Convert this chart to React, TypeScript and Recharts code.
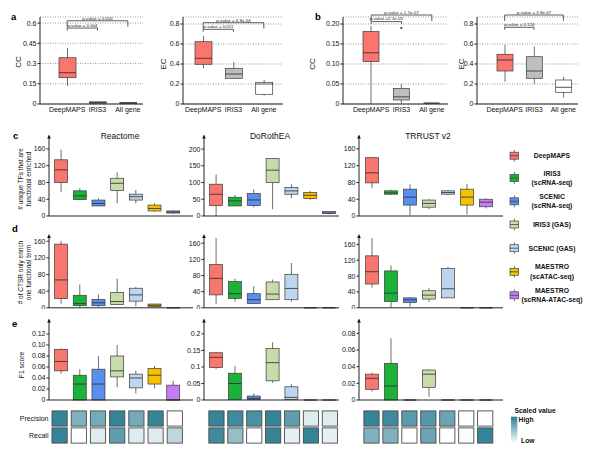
import React from 'react';
import {
  ComposedChart,
  Bar,
  Cell,
  XAxis,
  YAxis,
  CartesianGrid,
  ReferenceLine,
  ScatterChart,
  Scatter,
} from 'recharts';

const FONT = '"Liberation Sans", Arial, Helvetica, sans-serif';

const methods = [
  'DeepMAPS',
  'IRIS3 (scRNA-seq)',
  'SCENIC (scRNA-seq)',
  'IRIS3 (GAS)',
  'SCENIC (GAS)',
  'MAESTRO (scATAC-seq)',
  'MAESTRO (scRNA-ATAC-seq)',
];
const methodColors = ['#F8766D', '#1BB23C', '#5B8FEF', '#C7DCAA', '#BDD6EE', '#F7C100', '#C57CF5'];

const abGroups = ['DeepMAPS', 'IRIS3', 'All gene'];
const abColors = ['#F8766D', '#BEBEBE', '#FFFFFF'];

// five-number summaries: [min, q1, median, q3, max]
const aCC = [
  [0.133, 0.195, 0.232, 0.343, 0.417],
  [0.003, 0.006, 0.01, 0.016, 0.02],
  [0.004, 0.006, 0.008, 0.01, 0.012],
];
const aEC = [
  [0.357, 0.397, 0.457, 0.623, 0.68],
  [0.25, 0.257, 0.3, 0.357, 0.42],
  [0.083, 0.097, 0.2, 0.217, 0.24],
];
const bCC = [
  [0, 0.106, 0.128, 0.181, 0.195],
  [0.002, 0.01, 0.018, 0.039, 0.05],
  [0.002, 0.003, 0.003, 0.004, 0.004],
];
const bCCOutliers = [[], [0.19], []];
const bEC = [
  [0.223, 0.33, 0.44, 0.497, 0.59],
  [0.2, 0.257, 0.33, 0.473, 0.573],
  [0.063, 0.117, 0.167, 0.24, 0.273],
];

// [from, to, y, label]
const aCCBrackets = [
  ['DeepMAPS', 'All gene', 0.617, 'p-value = 0.004'],
  ['DeepMAPS', 'IRIS3', 0.563, 'p-value = 0.004'],
];
const aECBrackets = [
  ['DeepMAPS', 'All gene', 0.813, 'p-value = 6.9e-04'],
  ['DeepMAPS', 'IRIS3', 0.747, 'p-value = 0.011'],
];
const bCCBrackets = [
  ['DeepMAPS', 'All gene', 0.2225, 'p-value = 1.7e-07'],
  ['DeepMAPS', 'IRIS3', 0.206, 'p-value =2.1e-05'],
];
const bECBrackets = [
  ['DeepMAPS', 'All gene', 0.89, 'p-value = 3.9e-07'],
  ['DeepMAPS', 'IRIS3', 0.767, 'p-value = 0.124'],
];

const cReactome = [
  [57, 80, 110, 134, 158],
  [38, 39, 48, 60, 66],
  [23, 24, 30, 38, 42],
  [30, 61, 78, 90, 104],
  [30, 38, 46, 52, 62],
  [10, 12, 18, 26, 30],
  [5, 7, 9.5, 12, 14],
];
const cDorothea = [
  [0, 31, 65, 95, 124],
  [30, 30, 45, 56, 63],
  [26, 31, 48, 67, 80],
  [20, 100, 137, 172, 172],
  [53, 65, 75, 85, 95],
  [48, 52, 62, 70, 75],
  [5, 8, 9, 13, 13],
];
const cTrrust = [
  [67, 79, 103, 139, 140],
  [50, 52, 55, 60, 63],
  [2, 26, 45, 64, 76],
  [16, 21, 30, 38, 40],
  [50, 52, 56, 60, 62],
  [4, 26, 45, 64, 76],
  [18, 22, 33, 40, 42],
];

const dReactome = [
  [10, 22, 67, 153, 161],
  [1, 5, 10, 30, 56],
  [2, 5, 12, 20, 32],
  [7, 8, 15, 37, 70],
  [4, 16, 31, 47, 50],
  [2, 3, 6, 9, 10],
  [0, 0.5, 1, 1.5, 2],
];
const dDorothea = [
  [10, 32, 73, 107, 173],
  [15, 23, 35, 65, 72],
  [10, 11, 20, 35, 54],
  [20, 20, 34, 64, 70],
  [15, 20, 48, 83, 111],
  [0, 0, 0, 0, 0],
  [0, 0, 0, 0, 0],
];
const dTrrust = [
  [51, 60, 91, 131, 176],
  [0, 16, 37, 93, 107],
  [3, 13, 20, 25, 27],
  [15, 22, 32, 43, 50],
  [25, 25, 48, 99, 103],
  [0, 0, 0, 0, 0],
  [0, 0, 0, 0, 0],
];

const eReactome = [
  [0.048, 0.053, 0.07, 0.092, 0.094],
  [0, 0, 0.029, 0.045, 0.056],
  [0, 0, 0.029, 0.056, 0.08],
  [0.023, 0.042, 0.053, 0.08, 0.1],
  [0.012, 0.022, 0.04, 0.047, 0.053],
  [0.021, 0.029, 0.045, 0.057, 0.062],
  [0, 0, 0, 0.027, 0.035],
];
const eDorothea = [
  [0.093, 0.098, 0.129, 0.143, 0.146],
  [0, 0.002, 0.05, 0.081, 0.103],
  [0, 0.002, 0.005, 0.012, 0.02],
  [0.052, 0.058, 0.113, 0.156, 0.174],
  [0, 0.002, 0.008, 0.04, 0.048],
  [0, 0, 0, 0, 0],
  [0, 0, 0, 0, 0],
];
const eTrrust = [
  [0.01, 0.0128, 0.026, 0.031, 0.033],
  [0, 0, 0.0168, 0.044, 0.074],
  [0, 0, 0, 0, 0],
  [0.004, 0.0152, 0.031, 0.036, 0.0368],
  [0, 0, 0, 0, 0],
  [0, 0, 0, 0, 0],
  [0, 0, 0, 0, 0],
];

// scaled precision / recall (0 = low, 1 = high)
const hmReactome = [
  [0.95, 0.6, 0.65, 0.95, 0.65, 0.95, 0],
  [0.95, 0, 0.15, 0.75, 0.15, 0.15, 0.3],
];
const hmDorothea = [
  [0.95, 0.9, 0.85, 0.95, 0.75, 0.15, 0.15],
  [0.9, 0.5, 0, 0.95, 0.12, 0.95, 0.12],
];
const hmTrrust = [
  [0.95, 0.9, 0.78, 0.8, 0.7, 0, 0],
  [0.6, 0.6, 0, 0.7, 0, 0.03, 0.95],
];

const ticksA = [0, 0.15, 0.3, 0.45, 0.6];
const ticksEC = [0, 0.2, 0.4, 0.6, 0.8];
const ticksBCC = [0, 0.05, 0.1, 0.15, 0.2];
const ticks160 = [0, 40, 80, 120, 160];
const ticks200 = [0, 50, 100, 150, 200];
const ticksE1 = [0, 0.02, 0.04, 0.06, 0.08, 0.1, 0.12];
const ticksE2 = [0, 0.05, 0.1, 0.15, 0.2];
const ticksE3 = [0, 0.02, 0.04, 0.06, 0.08];

const fmt2 = (v: number) => (v === 0 ? '0' : v.toFixed(2));
const fmtPlain = (v: number) => String(v);

const YW = 34;
const MT = 6;
const MR = 6;

function BoxShape(props: any) {
  const { x, y, width, height, payload, fill } = props;
  if (x == null || !payload) return null;
  const top = Math.min(y, y + height);
  const bottom = Math.max(y, y + height);
  const [mn, q1, md, q3, mx] = payload.stats;
  const span = mx - mn;
  const cx = x + width / 2;
  if (bottom - top < 1 || span === 0) {
    return <rect x={x} y={bottom - 0.8} width={width} height={1.6} fill="#5a5a5a" />;
  }
  const py = (v: number) => bottom - ((v - mn) / span) * (bottom - top);
  return (
    <g>
      <line x1={cx} x2={cx} y1={py(mx)} y2={py(mn)} stroke="#4a4a4a" strokeWidth={0.8} />
      <rect
        x={x}
        y={py(q3)}
        width={width}
        height={Math.max(py(q1) - py(q3), 0.8)}
        fill={fill}
        stroke="#3a3a3a"
        strokeWidth={0.7}
      />
      <line x1={x} x2={x + width} y1={py(md)} y2={py(md)} stroke="#2a2a2a" strokeWidth={0.8} />
      {(payload.outliers || []).map((o: number, i: number) => (
        <circle key={i} cx={cx} cy={py(o)} r={1.1} fill="#333" />
      ))}
    </g>
  );
}

function BoxPanel(p: any) {
  const { plot, groups, stats, colors, max, ticks, fmt, pad, barSize, showX, grid, brackets, outliers } = p;
  const xh = showX ? 14 : 2;
  const data = groups.map((g: string, i: number) => ({
    name: g,
    stats: stats[i],
    outliers: outliers ? outliers[i] : [],
  }));
  const width = plot.x1 - plot.x0 + YW + MR;
  const height = plot.y1 - plot.y0 + MT + xh;
  const unitPerPx = max / (plot.y1 - plot.y0);
  const lineStyle = { stroke: '#333', strokeWidth: 0.8 };
  return (
    <div style={{ position: 'absolute', left: plot.x0 - YW, top: plot.y0 - MT }}>
      <ComposedChart width={width} height={height} data={data} margin={{ top: MT, right: MR, bottom: 0, left: 0 }}>
        {grid && <CartesianGrid vertical={false} strokeDasharray="1 1.5" stroke="#808080" strokeWidth={0.8} />}
        <XAxis
          dataKey="name"
          type="category"
          height={xh}
          padding={pad}
          interval={0}
          tick={showX ? { fontSize: 7, fill: '#111', fontFamily: FONT } : false}
          tickLine={false}
          tickSize={2}
          tickMargin={1}
          axisLine={{ stroke: '#222', strokeWidth: 1 }}
        />
        <YAxis
          width={YW}
          type="number"
          domain={[0, max]}
          ticks={ticks}
          interval={0}
          tickFormatter={fmt}
          tick={{ fontSize: 7, fill: '#111', fontFamily: FONT }}
          tickSize={2.5}
          tickMargin={1}
          tickLine={{ stroke: '#222' }}
          axisLine={{ stroke: '#222', strokeWidth: 1 }}
        />
        <Bar
          dataKey={(d: any) => [d.stats[0], d.stats[4]]}
          barSize={barSize}
          shape={(s: any) => <BoxShape {...s} />}
          isAnimationActive={false}
        >
          {data.map((_: any, i: number) => (
            <Cell key={i} fill={colors[i]} />
          ))}
        </Bar>
        {(brackets || []).flatMap((b: any, k: number) => {
          const drop = (k === 0 ? 6 : 2.5) * unitPerPx;
          return [
            <ReferenceLine
              key={`h${k}`}
              segment={[
                { x: b[0], y: b[2] },
                { x: b[1], y: b[2] },
              ]}
              ifOverflow="visible"
              {...lineStyle}
              label={{ value: b[3], position: 'top', fontSize: 4.4, fill: '#222', offset: 1.2, fontFamily: FONT }}
            />,
            <ReferenceLine
              key={`l${k}`}
              segment={[
                { x: b[0], y: b[2] },
                { x: b[0], y: b[2] - drop },
              ]}
              ifOverflow="visible"
              {...lineStyle}
            />,
            <ReferenceLine
              key={`r${k}`}
              segment={[
                { x: b[1], y: b[2] },
                { x: b[1], y: b[2] - drop },
              ]}
              ifOverflow="visible"
              {...lineStyle}
            />,
          ];
        })}
      </ComposedChart>
    </div>
  );
}

const lowRGB = [255, 255, 255];
const highRGB = [43, 125, 146];
function heatColor(v: number) {
  const c = lowRGB.map((l, i) => Math.round(l + (highRGB[i] - l) * v));
  return `rgb(${c[0]},${c[1]},${c[2]})`;
}

function HeatCell(props: any) {
  const { cx, cy, fill } = props;
  if (cx == null) return null;
  return <rect x={cx - 7.6} y={cy - 7.6} width={15.2} height={15.2} fill={fill} stroke="#4a4a4a" strokeWidth={0.9} />;
}

function HeatPanel({ x0, x1, y0, y1, values, labels }: any) {
  const data: any[] = [];
  values.forEach((row: number[], r: number) => row.forEach((v, i) => data.push({ x: i, y: 1 - r, v })));
  const yw = labels ? 45 : 0;
  return (
    <div style={{ position: 'absolute', left: x0 - yw, top: y0 }}>
      <ScatterChart width={x1 - x0 + yw} height={y1 - y0} margin={{ top: 0, right: 0, bottom: 0, left: 0 }}>
        <XAxis type="number" dataKey="x" domain={[-0.5, 6.5]} hide />
        <YAxis
          type="number"
          dataKey="y"
          domain={[-0.5, 1.5]}
          ticks={[0, 1]}
          hide={!labels}
          width={yw}
          tickFormatter={(v: number) => (v === 1 ? 'Precision' : 'Recall')}
          tickLine={false}
          axisLine={false}
          tickSize={0}
          tickMargin={1.5}
          tick={{ fontSize: 7, fill: '#111', fontFamily: FONT }}
        />
        <Scatter data={data} shape={(s: any) => <HeatCell {...s} />} isAnimationActive={false}>
          {data.map((d, i) => (
            <Cell key={i} fill={heatColor(d.v)} />
          ))}
        </Scatter>
      </ScatterChart>
    </div>
  );
}

const cols = [
  { x0: 49, x1: 193, pad: { left: 2.6, right: 10.6 } },
  { x0: 204, x1: 339, pad: { left: 2.6, right: 0.6 } },
  { x0: 359, x1: 503, pad: { left: 3.5, right: 7.5 } },
];

const legendRows: [string[], number][] = [
  [['DeepMAPS'], 155.7],
  [['IRIS3', '(scRNA-seq)'], 178],
  [['SCENIC', '(scRNA-seq)'], 201.3],
  [['IRIS3 (GAS)'], 224.5],
  [['SCENIC (GAS)'], 248.2],
  [['MAESTRO', '(scATAC-seq)'], 271.8],
  [['MAESTRO', '(scRNA-ATAC-seq)'], 295.3],
];

function Overlay() {
  const t = { fontFamily: FONT, fill: '#111' } as any;
  const rotY = (x: number, y: number, lines: string[], size: number) =>
    lines.map((l, i) => (
      <text
        key={l}
        {...t}
        fontSize={size}
        textAnchor="middle"
        dominantBaseline="central"
        transform={`translate(${x + i * 8},${y}) rotate(-90)`}
      >
        {l}
      </text>
    ));
  const arrow = (x: number, y: number) => (
    <polygon key={`${x}-${y}`} points={`${x},${y - 2.5} ${x - 1.8},${y + 1.5} ${x + 1.8},${y + 1.5}`} fill="#111" />
  );
  return (
    <svg width={600} height={450} style={{ position: 'absolute', left: 0, top: 0, pointerEvents: 'none' }}>
      <defs>
        <linearGradient id="scaleGrad" x1="0" y1="0" x2="0" y2="1">
          <stop offset="0%" stopColor={heatColor(1)} />
          <stop offset="100%" stopColor={heatColor(0)} />
        </linearGradient>
      </defs>
      <g fontWeight="bold" fontSize={9.5} fontFamily={FONT}>
        <text x={11} y={20}>a</text>
        <text x={315} y={19.5}>b</text>
        <text x={13} y={139}>c</text>
        <text x={12} y={232}>d</text>
        <text x={12} y={326.5}>e</text>
      </g>
      {rotY(18, 62, ['CC'], 8)}
      {rotY(163, 64, ['EC'], 8)}
      {rotY(312, 64, ['CC'], 8)}
      {rotY(461, 64, ['EC'], 8)}
      {rotY(20, 179, ['# unique TFs that are', 'functional enriched'], 6.5)}
      {rotY(20, 272.5, ['# of CTSR only enrich', 'one functional term'], 6.5)}
      {rotY(21, 365, ['F1 score'], 6.8)}
      <g fontSize={8.5} textAnchor="middle" {...t}>
        <text x={120} y={139}>Reactome</text>
        <text x={270} y={139}>DoRothEA</text>
        <text x={428} y={139}>TRRUST v2</text>
      </g>
      {cols.map((c) => [arrow(c.x0, 137), arrow(c.x0, 236.5), arrow(c.x0, 321)])}
      {legendRows.map(([lines, cy], i) => (
        <g key={i}>
          <line x1={514.3} x2={514.3} y1={cy - 6} y2={cy + 6} stroke="#555" strokeWidth={0.8} />
          <rect x={510} y={cy - 3.5} width={8.6} height={7} fill={methodColors[i]} stroke="#444" strokeWidth={0.7} />
          <line x1={510} x2={518.6} y1={cy} y2={cy} stroke="#333" strokeWidth={0.7} />
          {lines.map((l, k) => (
            <text
              key={l}
              {...t}
              fontSize={6.8}
              fontWeight={600}
              textAnchor="middle"
              x={552}
              y={cy + (k - (lines.length - 1) / 2) * 9.5 + 2.4}
            >
              {l}
            </text>
          ))}
        </g>
      ))}
      <text {...t} x={514.5} y={412.5} fontSize={6.8} fontWeight={600}>
        Scaled value
      </text>
      <rect x={511} y={416.7} width={6.3} height={26.6} fill="url(#scaleGrad)" />
      <text {...t} x={518.5} y={421.5} fontSize={6.8} fontWeight={600}>
        High
      </text>
      <text {...t} x={521} y={443} fontSize={6.8} fontWeight={600}>
        Low
      </text>
    </svg>
  );
}

export default function App() {
  return (
    <div style={{ position: 'absolute', left: 0, top: 0, width: 600, height: 450, background: '#fff', fontFamily: FONT }}>
      <BoxPanel plot={{ x0: 40, x1: 143, y0: 17, y1: 104 }} groups={abGroups} stats={aCC} colors={abColors}
        max={0.645} ticks={ticksA} fmt={fmtPlain} pad={{ left: 12, right: 0 }} barSize={17} showX grid brackets={aCCBrackets} />
      <BoxPanel plot={{ x0: 183, x1: 283, y0: 17, y1: 104 }} groups={abGroups} stats={aEC} colors={abColors}
        max={0.87} ticks={ticksEC} fmt={fmtPlain} pad={{ left: 5, right: 4 }} barSize={17} showX grid brackets={aECBrackets} />
      <BoxPanel plot={{ x0: 343, x1: 448, y0: 17, y1: 104 }} groups={abGroups} stats={bCC} colors={abColors}
        max={0.2175} ticks={ticksBCC} fmt={fmt2} pad={{ left: 13, right: 1 }} barSize={16} showX grid
        brackets={bCCBrackets} outliers={bCCOutliers} />
      <BoxPanel plot={{ x0: 477, x1: 578, y0: 17, y1: 104 }} groups={abGroups} stats={bEC} colors={abColors}
        max={0.87} ticks={ticksEC} fmt={fmtPlain} pad={{ left: 13, right: 0 }} barSize={16} showX grid brackets={bECBrackets} />

      <BoxPanel plot={{ ...cols[0], y0: 138, y1: 216 }} pad={cols[0].pad} groups={methods} stats={cReactome}
        colors={methodColors} max={186} ticks={ticks160} fmt={fmtPlain} barSize={13} />
      <BoxPanel plot={{ ...cols[1], y0: 138, y1: 216 }} pad={cols[1].pad} groups={methods} stats={cDorothea}
        colors={methodColors} max={233} ticks={ticks200} fmt={fmtPlain} barSize={13} />
      <BoxPanel plot={{ ...cols[2], y0: 138, y1: 216 }} pad={cols[2].pad} groups={methods} stats={cTrrust}
        colors={methodColors} max={186} ticks={ticks160} fmt={fmtPlain} barSize={13} />

      <BoxPanel plot={{ ...cols[0], y0: 237.5, y1: 307.3 }} pad={cols[0].pad} groups={methods} stats={dReactome}
        colors={methodColors} max={167.7} ticks={ticks160} fmt={fmtPlain} barSize={13} />
      <BoxPanel plot={{ ...cols[1], y0: 237.5, y1: 307.3 }} pad={cols[1].pad} groups={methods} stats={dDorothea}
        colors={methodColors} max={167.7} ticks={ticks160} fmt={fmtPlain} barSize={13} />
      <BoxPanel plot={{ ...cols[2], y0: 237.5, y1: 307.3 }} pad={cols[2].pad} groups={methods} stats={dTrrust}
        colors={methodColors} max={167.7} ticks={ticks160} fmt={fmtPlain} barSize={13} />

      <BoxPanel plot={{ ...cols[0], y0: 322, y1: 400 }} pad={cols[0].pad} groups={methods} stats={eReactome}
        colors={methodColors} max={0.1418} ticks={ticksE1} fmt={fmt2} barSize={13} />
      <BoxPanel plot={{ ...cols[1], y0: 322, y1: 400 }} pad={cols[1].pad} groups={methods} stats={eDorothea}
        colors={methodColors} max={0.236} ticks={ticksE2} fmt={fmtPlain} barSize={13} />
      <BoxPanel plot={{ ...cols[2], y0: 322, y1: 400 }} pad={cols[2].pad} groups={methods} stats={eTrrust}
        colors={methodColors} max={0.0936} ticks={ticksE3} fmt={fmt2} barSize={13} />

      <HeatPanel x0={49.9} x1={184.3} y0={409.7} y1={443.7} values={hmReactome} labels />
      <HeatPanel x0={206.6} x1={338.9} y0={409.7} y1={443.7} values={hmDorothea} />
      <HeatPanel x0={362.3} x1={495} y0={409.7} y1={443.7} values={hmTrrust} />

      <Overlay />
    </div>
  );
}
